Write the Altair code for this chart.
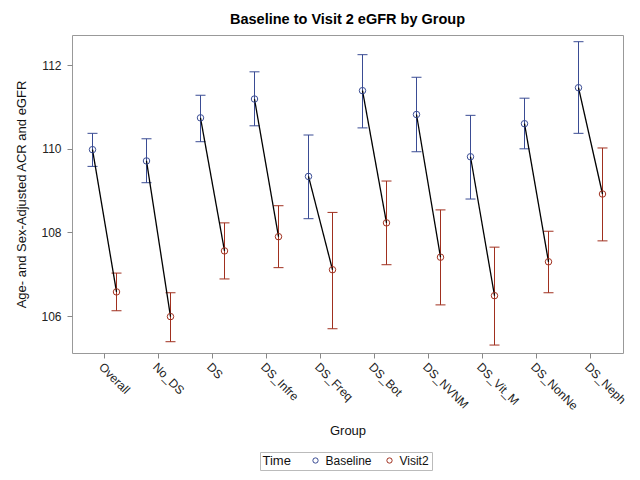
import altair as alt
import pandas as pd

groups = ["Overall", "No_DS", "DS", "DS_Infre", "DS_Freq", "DS_Bot",
          "DS_NVNM", "DS_Vit_M", "DS_NonNe", "DS_Neph"]
times = ["Baseline", "Visit2"]
base_mean = [109.98, 109.71, 110.74, 111.19, 109.34, 111.39, 110.82, 109.81, 110.60, 111.46]
base_lo = [109.58, 109.19, 110.17, 110.55, 108.33, 110.50, 109.93, 108.80, 110.00, 110.37]
base_hi = [110.37, 110.24, 111.28, 111.84, 110.33, 112.25, 111.71, 110.80, 111.21, 112.56]
v2_mean = [106.58, 105.99, 107.56, 107.90, 107.11, 108.23, 107.41, 106.49, 107.30, 108.92]
v2_lo = [106.13, 105.39, 106.89, 107.16, 105.70, 107.23, 106.27, 105.31, 106.56, 107.80]
v2_hi = [107.03, 106.56, 108.23, 108.64, 108.48, 109.23, 108.54, 107.65, 108.03, 110.02]

rows = []
for i, g in enumerate(groups):
    rows.append(dict(Group=g, Time="Baseline", Series="Baseline",
                     mean=base_mean[i], lo=base_lo[i], hi=base_hi[i]))
    rows.append(dict(Group=g, Time="Visit2", Series="Visit2",
                     mean=v2_mean[i], lo=v2_lo[i], hi=v2_hi[i]))
df = pd.DataFrame(rows)

FONT = "Liberation Sans"
colors = ["#3A4C94", "#A0301F"]
YTITLE = "Age- and Sex-Adjusted ACR and eGFR"

x = alt.X("Group:N", sort=groups, title="Group",
          scale=alt.Scale(paddingInner=6 / 54, paddingOuter=8.5 / 54),
          axis=alt.Axis(labelAngle=45, labelAlign="left", labelBaseline="top",
                        labelPadding=3, labelFontSize=12, titleFontSize=13,
                        titleFontWeight="normal", titlePadding=13, tickSize=5,
                        tickColor="#888", domain=False, labelColor="#222",
                        titleColor="#111"))
xo = alt.XOffset("Time:N", sort=times, scale=alt.Scale(paddingInner=0, paddingOuter=0))
yscale = alt.Scale(domain=[105.12, 112.72], nice=False, zero=False)
yaxis = alt.Axis(values=[106, 108, 110, 112], grid=False, labelFontSize=12,
                 titleFontSize=13, titleFontWeight="normal", titlePadding=12,
                 tickSize=5, labelPadding=6, tickColor="#888", domain=False,
                 labelColor="#222", titleColor="#111", titleLimit=400)
y = alt.Y("mean:Q", scale=yscale, title=YTITLE, axis=yaxis)
ylo = alt.Y("lo:Q", scale=yscale, title=YTITLE, axis=yaxis)
yhi = alt.Y("hi:Q", scale=yscale, title=YTITLE, axis=yaxis)

bar_color = alt.Color("Series:N", scale=alt.Scale(range=colors), legend=None)

base = alt.Chart(df)

rules = base.mark_rule(strokeWidth=1, opacity=1).encode(
    x=x, xOffset=xo, y=ylo, y2="hi:Q", color=bar_color)
cap_lo = base.mark_tick(orient="horizontal", size=10, thickness=1, opacity=1).encode(
    x=x, xOffset=xo, y=ylo, color=bar_color)
cap_hi = base.mark_tick(orient="horizontal", size=10, thickness=1, opacity=1).encode(
    x=x, xOffset=xo, y=yhi, color=bar_color)
line = base.mark_line(color="black", strokeWidth=1.3).encode(
    x=x, xOffset=xo, y=y, detail="Group:N", order=alt.Order("Time:N"))
points = base.mark_point(shape="circle", size=42, filled=False, strokeWidth=1, opacity=1).encode(
    x=x, xOffset=xo, y=y,
    stroke=alt.Stroke("Time:N", sort=times,
                      scale=alt.Scale(domain=times, range=colors),
                      legend=alt.Legend(title="Time", orient="none", legendX=188,
                                        legendY=417, direction="horizontal",
                                        titleOrient="left", symbolType="circle",
                                        symbolSize=28, symbolStrokeWidth=1,
                                        symbolFillColor="transparent",
                                        labelFontSize=12, titleFontSize=13,
                                        titleFontWeight="normal", strokeColor="#bbb",
                                        padding=2.5, columnPadding=11, titlePadding=18,
                                        labelOffset=4,
                                        labelColor="#111", titleColor="#111")))

chart = alt.layer(rules, cap_lo, cap_hi, line, points).properties(
    width=551, height=318,
    title=alt.TitleParams("Baseline to Visit 2 eGFR by Group", fontSize=14.5,
                          fontWeight="bold", font=FONT, anchor="middle", offset=8,
                          color="#000"),
    autosize=alt.AutoSizeParams(type="none"),
    padding={"left": 64, "top": 27, "right": 9, "bottom": 119},
).configure(font=FONT).configure_view(stroke="#999", strokeWidth=1)

chart.save("out.html", embed_options={"renderer": "svg", "actions": False})
